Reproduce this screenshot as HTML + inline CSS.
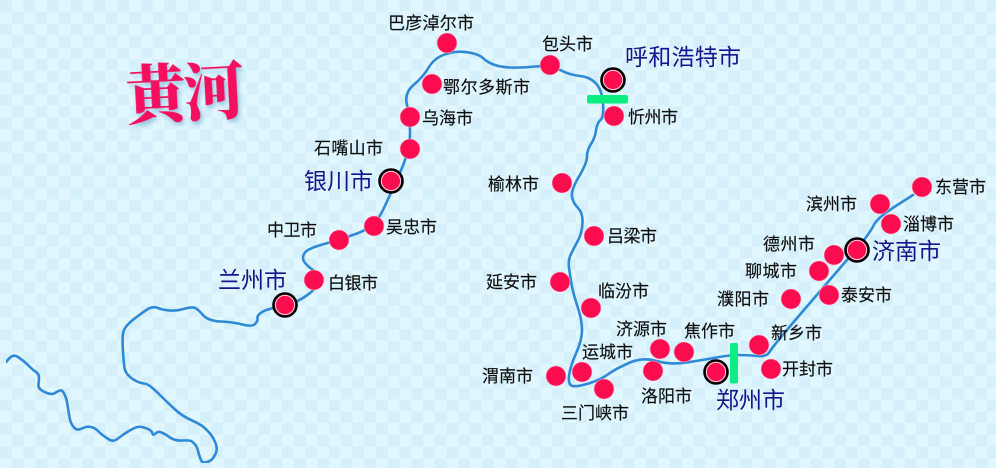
<!DOCTYPE html>
<html lang="zh"><head><meta charset="utf-8"><title>黄河</title>
<style>
html,body{margin:0;padding:0;width:996px;height:468px;overflow:hidden;background:#e1f7ff}
svg{display:block;position:absolute;left:0;top:0}
#bg{width:996px;height:468px;position:absolute;left:0;top:0;background-color:#e1f7ff;
background-image:conic-gradient(#d6f0fb 25%,transparent 0 50%,#d6f0fb 0 75%,transparent 0);background-size:23.5px 23.5px;background-position:11.75px 0}
text{font-family:"Liberation Sans","Noto Sans CJK SC",sans-serif}
.l text{font-size:17px;fill:#111;stroke:#111;stroke-width:.15}
.b text{font-size:23px;fill:#14148c}
.t{font-family:"Noto Serif CJK SC","Liberation Serif",serif!important;font-weight:900;font-size:60px;fill:#f5105f;filter:drop-shadow(2px 3px 2px rgba(120,180,210,.7))}
</style></head><body>
<div id="bg"></div>
<svg width="996" height="468" viewBox="0 0 996 468" xmlns="http://www.w3.org/2000/svg">
<g filter="url(#s)">
<path fill="none" stroke="#2f8ad6" stroke-width="2.6" stroke-linejoin="round" stroke-linecap="round" d="M6 362Q10 357 12.500 356Q15 355 18 357Q21 359 24 361.500Q27 364 30 367Q33 370 36 372Q39 374 39 377.500Q39 381 38.500 384Q38 387 40 389Q42 391 47 393Q52 395 55 393Q58 391 60 390.500Q62 390 63.500 392.500Q65 395 66 398Q67 401 68 408Q69 415 70 419.500Q71 424 74 427.500Q77 431 82 428.500Q87 426 91 427Q95 428 97.500 430.500Q100 433 102.500 435Q105 437 109 439.500Q113 442 116.500 439.500Q120 437 123.500 434.500Q127 432 132.500 429Q138 426 142 427Q146 428 149 429.500Q152 431 152.500 433.500Q153 436 155.500 433.500Q158 431 161.500 432.500Q165 434 170 437.500Q175 441 182.500 440.500Q190 440 192 441.500Q194 443 195.500 445Q197 447 198 451Q199 455 200.500 459Q202 463 205 462.500Q208 462 210.500 460.500Q213 459 215.500 454Q218 449 215.500 443Q213 437 210 433.500Q207 430 203.500 427Q200 424 191 420Q182 416 174.500 409Q167 402 162 397Q157 392 152.500 388Q148 384 144 383.500Q140 383 136 381Q132 379 129 376Q126 373 125 370Q124 367 123 352Q122 337 123.500 331.500Q125 326 134 319Q143 312 148 309Q153 306 158 308Q163 310 170 310.500Q177 311 183.500 309Q190 307 193.500 307.500Q197 308 202.500 314.500Q208 321 220.500 321.500Q233 322 242.500 324.500Q252 327 255 324Q258 321 257.500 318.500Q257 316 260 313.500Q263 311 268 309.500Q273 308 279 306.500Q285 305 291 303.500Q297 302 306 296Q315 290 315.500 285Q318 275 313 270Q303 263 303 258Q303 253 308 250Q313 247 326 243.500Q339 240 357 233.500Q375 227 383 210Q391 193 400.500 171.500Q410 150 410 133.500Q410 117 407 105Q404 93 413.500 85Q423 77 428 68.500Q433 60 440 56.500Q447 53 455 52Q463 51 471.500 53Q480 55 483.500 58.500Q487 62 493.500 64.500Q500 67 510 67.500Q520 68 535 66.500Q550 65 560 70Q570 75 580 76Q590 77 596 83.500Q602 90 603 103.500Q604 117 600.500 120Q597 123 596 130.500Q595 138 591 144Q587 150 587 156.500Q587 163 579 176.500Q571 190 572 196.500Q573 203 578 208Q583 213 582.500 223Q582 233 578 240.500Q574 248 571 254Q568 260 569 267.500Q570 275 571.500 284Q573 293 577.500 306.500Q582 320 582 330Q582 340 576 353.500Q570 367 569 376Q568 385 572.500 386Q577 387 588.500 383.500Q600 380 608.500 374Q617 368 630 362.500Q643 357 656.500 361Q670 365 686.500 362.500Q703 360 716.500 357.500Q730 355 738.500 355Q747 355 757 356Q767 357 769.500 352Q772 347 809.500 303.500Q847 260 858.500 246.500Q870 233 873.500 225.500Q877 218 895 206.500L913 195"/>
<rect x="587" y="95" width="41" height="8.5" rx="2" fill="#10ee80"/>
<rect x="730" y="343" width="8" height="40.5" rx="1.5" fill="#10ee80"/>
<g fill="#fb0f4f" stroke="#ffb4cc" stroke-width=".6">
<circle cx="447" cy="43" r="10"/><circle cx="432" cy="84" r="10"/><circle cx="410" cy="117" r="10"/><circle cx="410" cy="149" r="10"/><circle cx="374" cy="226" r="10"/><circle cx="339" cy="240" r="10"/><circle cx="314" cy="280" r="10"/><circle cx="550" cy="65" r="10"/><circle cx="614" cy="116" r="10"/><circle cx="562" cy="183" r="10"/><circle cx="594" cy="236" r="10"/><circle cx="560" cy="282" r="10"/><circle cx="591" cy="308" r="10"/><circle cx="582" cy="372" r="10"/><circle cx="556" cy="376" r="10"/><circle cx="604" cy="389" r="10"/><circle cx="660" cy="349" r="10"/><circle cx="684" cy="352" r="10"/><circle cx="653" cy="371" r="10"/><circle cx="759" cy="345" r="10"/><circle cx="771" cy="369" r="10"/><circle cx="791" cy="299" r="10"/><circle cx="829" cy="295" r="10"/><circle cx="819" cy="271" r="10"/><circle cx="834" cy="255" r="10"/><circle cx="880" cy="204" r="10"/><circle cx="891" cy="224" r="10"/><circle cx="922" cy="187" r="10"/>
</g>
<g fill="#fb0f4f" stroke="#000" stroke-width="2.6">
<circle cx="613" cy="80" r="11.5"/><circle cx="391" cy="181" r="11.5"/><circle cx="285" cy="305" r="11.5"/><circle cx="716" cy="372" r="11.5"/><circle cx="857" cy="250" r="11.5"/>
</g>
<g fill="none" stroke="#ffd0dd" stroke-width="1">
<circle cx="613" cy="80" r="9.6"/><circle cx="391" cy="181" r="9.6"/><circle cx="285" cy="305" r="9.6"/><circle cx="716" cy="372" r="9.6"/><circle cx="857" cy="250" r="9.6"/>
</g>
<g class="l">
<text x="388" y="29" textLength="86" lengthAdjust="spacing">巴彦淖尔市</text>
<text x="443" y="93" textLength="87" lengthAdjust="spacing">鄂尔多斯市</text>
<text x="422" y="124" textLength="51" lengthAdjust="spacing">乌海市</text>
<text x="314" y="154" textLength="69" lengthAdjust="spacing">石嘴山市</text>
<text x="386" y="233" textLength="51" lengthAdjust="spacing">吴忠市</text>
<text x="267" y="236" textLength="50" lengthAdjust="spacing">中卫市</text>
<text x="328" y="289" textLength="50" lengthAdjust="spacing">白银市</text>
<text x="542" y="50" textLength="51" lengthAdjust="spacing">包头市</text>
<text x="628" y="123" textLength="50" lengthAdjust="spacing">忻州市</text>
<text x="488" y="190" textLength="51" lengthAdjust="spacing">榆林市</text>
<text x="607" y="242" textLength="50" lengthAdjust="spacing">吕梁市</text>
<text x="486" y="288" textLength="51" lengthAdjust="spacing">延安市</text>
<text x="598" y="297" textLength="51" lengthAdjust="spacing">临汾市</text>
<text x="582" y="358" textLength="51" lengthAdjust="spacing">运城市</text>
<text x="482" y="382" textLength="51" lengthAdjust="spacing">渭南市</text>
<text x="561" y="419" textLength="68" lengthAdjust="spacing">三门峡市</text>
<text x="616" y="335" textLength="51" lengthAdjust="spacing">济源市</text>
<text x="684" y="337" textLength="51" lengthAdjust="spacing">焦作市</text>
<text x="641" y="402" textLength="51" lengthAdjust="spacing">洛阳市</text>
<text x="771" y="339" textLength="51" lengthAdjust="spacing">新乡市</text>
<text x="782" y="375" textLength="51" lengthAdjust="spacing">开封市</text>
<text x="717" y="305" textLength="52" lengthAdjust="spacing">濮阳市</text>
<text x="841" y="301" textLength="51" lengthAdjust="spacing">泰安市</text>
<text x="745" y="277" textLength="52" lengthAdjust="spacing">聊城市</text>
<text x="763" y="250" textLength="52" lengthAdjust="spacing">德州市</text>
<text x="806" y="210" textLength="51" lengthAdjust="spacing">滨州市</text>
<text x="903" y="230" textLength="51" lengthAdjust="spacing">淄博市</text>
<text x="935" y="193" textLength="51" lengthAdjust="spacing">东营市</text>
</g>
<g class="b">
<text x="625" y="65" textLength="116" lengthAdjust="spacing">呼和浩特市</text>
<text x="304" y="189" textLength="69" lengthAdjust="spacing">银川市</text>
<text x="218" y="288" textLength="69" lengthAdjust="spacing">兰州市</text>
<text x="716" y="408" textLength="69" lengthAdjust="spacing">郑州市</text>
<text x="872" y="259" textLength="69" lengthAdjust="spacing">济南市</text>
</g>
</g>
<text class="t" x="0" y="0" transform="translate(127 119) rotate(-3) scale(1 1.06)" textLength="118" lengthAdjust="spacing">黄河</text>
<defs><filter id="s" x="0" y="0" width="100%" height="100%"><feGaussianBlur stdDeviation=".35"/></filter></defs>
</svg>
</body></html>
